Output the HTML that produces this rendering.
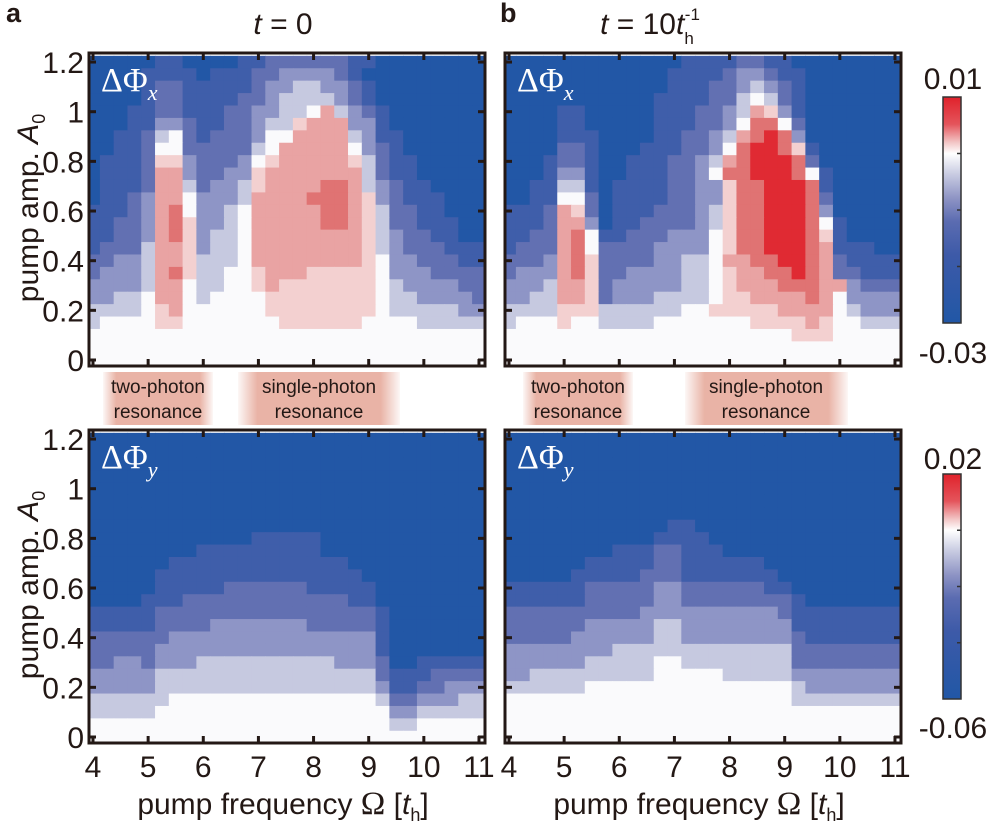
<!DOCTYPE html>
<html><head><meta charset="utf-8">
<style>
body{margin:0;background:#fff;}
svg{display:block;font-family:"Liberation Sans",sans-serif;}
.tk{font-size:30px;fill:#231815;}
</style></head>
<body>
<svg id="fig" width="990" height="831" viewBox="0 0 990 831" xmlns="http://www.w3.org/2000/svg">
<defs>
<linearGradient id="cbar" x1="0" y1="1" x2="0" y2="0">
<stop offset="0" stop-color="#2157a6"/><stop offset="0.3" stop-color="#3d5aa8"/>
<stop offset="0.45" stop-color="#5b6cb1"/><stop offset="0.55" stop-color="#8d93c4"/>
<stop offset="0.66" stop-color="#c9cce2"/><stop offset="0.75" stop-color="#ffffff"/>
<stop offset="0.8" stop-color="#f2c4c4"/><stop offset="0.88" stop-color="#e4545b"/>
<stop offset="1" stop-color="#e0222b"/></linearGradient>
<linearGradient id="res" x1="0" y1="0" x2="1" y2="0">
<stop offset="0" stop-color="#e9b3a6" stop-opacity="0.1"/><stop offset="0.12" stop-color="#e9b3a6"/>
<stop offset="0.88" stop-color="#e9b3a6"/><stop offset="1" stop-color="#e9b3a6" stop-opacity="0.1"/></linearGradient>
</defs>
</svg>
<script>
// ---- data (rows top = A 1.2 down to A 0; columns Ω = 4..11 step 0.25) ----
const freqs = []; for (let j = 0; j < 29; j++) freqs.push(4 + 0.25 * j);
const amps = []; for (let i = 0; i < 25; i++) amps.push(1.2 - 0.05 * i);
const xTicks = [4,5,6,7,8,9,10,11];
const yTicks = [0,0.2,0.4,0.6,0.8,1,1.2];
const yTickLabels = ["0","0.2","0.4","0.6","0.8","1","1.2"];
const mapPhiX0 = [
"00000110000112222221100000000","00001111011122333321000000000","00001221111123344332100000000",
"00001221111223444432100000000","00011221112233445743210000000","00011332112234467773310000000",
"00112452122235577774311000000","00112552222245777775321000000","01112663222356777776421100000",
"01112773223367777777421100000","01112774233467777887432110000","01123775333477778887632111000",
"11123785334577777887642211000","11223786334577777887642211100","11223786344577777777643221100",
"12224776344577777777643222111","22334776444577777777653322211","23334786445567776666653332222",
"33334775445567666666654333322","33445775455556666666654433332","44445675555556666666654444433",
"45555665555555666666555544444","55555555555555555555555555555","55555555555555555555555555555",
"55555555555555555555555555555"];
const mapPhiX10 = [
"00000000000001111221100000000","00000000000011112332110000000","00000000000011122343210000000",
"00000000000111122454210000000","00001100000111223476310000000","00001100000111223588520000000",
"00001110000112234789830000000","00002210001112235899861000000","00012210011122347899982000000",
"00013310011122358899985100000","00114410111122336889998100000","00115520111122336889998200000",
"11127620111222346889998300000","11127730112222346889998510000","11227851122233356889998610000",
"12227852222333356889998711100","22237862222334457788998721111","23337862233334456778898722111",
"33347762333334456777888773222","33447762333444456677778753333","44446664444445566666777754333",
"45556554444555555566667655444","55555555555555555555566655555","55555555555555555555555555555",
"55555555555555555555555555555"];
const mapPhiY0 = [
"00000000000000000000000000000","00000000000000000000000000000","00000000000000000000000000000",
"00000000000000000000000000000","00000000000000000000000000000","00000000000000000000000000000",
"00000000000000000000000000000","00000000000000000000000000000","00000000000011111000000000000",
"00000000111111111000000000000","00000011111111111110000000000","00000111111111111111000000000",
"00000111112222221111100000000","00001112222222222221100000000","11111222222222222222210000000",
"11111222233333332222210000000","22222233333333333333310000000","22222333333333333333310000000",
"22332333444444444433320011111","33333444444444444444421112222","33333444444444444444431122333",
"44444455555555555555542233344","44444555555555555555553344444","55555555555555555555554455555",
"55555555555555555555555555555"];
const mapPhiY10 = [
"00000000000000000000000000000","00000000000000000000000000000","00000000000000000000000000000",
"00000000000000000000000000000","00000000000000000000000000000","00000000000000000000000000000",
"00000000000000000000000000000","00000000000011000000000000000","00000000000111100000000000000",
"00000000111221110000000000000","00000011111221111110000000000","00000111112221111111000000000",
"11111122222332222221100000000","11111122222332222222210000000","22222222223333333333211111111",
"22222233333443333333311111111","22222333333443333333321111111","33333333444444444444422222222",
"33333344444554444444422222222","33444444444555554444433333333","44444455555555555555543333333",
"55555555555555555555544444444","55555555555555555555555555555","55555555555555555555555555555",
"55555555555555555555555555555"];
const cmap = ["#2257a6","#3f5eaa","#6270b2","#8e95c6","#c6c9e0","#fafafc","#f3d0d0","#e9a3a3","#e07373","#e02a33"];

const NS = "http://www.w3.org/2000/svg";
const svg = document.getElementById("fig");
function el(tag, attrs, parent) {
  const e = document.createElementNS(NS, tag);
  for (const k in attrs) e.setAttribute(k, attrs[k]);
  (parent || svg).appendChild(e); return e;
}
const ink = "#231815";
const panels = [
  {map: mapPhiX0, ox: 0, oy: 0, name: "phi-x-t0", sub: "x", left: true, bottom: false},
  {map: mapPhiX10, ox: 416, oy: 0, name: "phi-x-t10", sub: "x", left: false, bottom: false},
  {map: mapPhiY0, ox: 0, oy: 377, name: "phi-y-t0", sub: "y", left: true, bottom: true},
  {map: mapPhiY10, ox: 416, oy: 377, name: "phi-y-t10", sub: "y", left: false, bottom: true}
];
panels.forEach((p, pi) => {
  const X = v => p.ox + 93 + (v - 4) * 55.14;
  const Y = v => p.oy + 360 - v * 248.3;
  const fx0 = p.ox + 89, fx1 = p.ox + 485, fy0 = p.oy + 53, fy1 = p.oy + 366;
  const g = el("g", {});
  
  
  el("clipPath", {id: "clip" + pi}, g);
  el("rect", {x: fx0, y: fy0, width: fx1 - fx0, height: fy1 - fy0}, g.lastChild);
  const cells = el("g", {"clip-path": "url(#clip" + pi + ")"}, g);
  amps.forEach((a, i) => {
    freqs.forEach((f, j) => {
      const v = +p.map[i][j];
      const r = el("rect", {x: X(f - 0.125), y: Y(a + 0.025), width: X(f + 0.125) - X(f - 0.125) + 0.6,
        height: Y(a - 0.025) - Y(a + 0.025) + 0.6, fill: cmap[v]}, cells);
      
      
    });
  });
  const fr = el("rect", {x: fx0, y: fy0, width: fx1 - fx0, height: fy1 - fy0, fill: "none", stroke: ink, "stroke-width": 3}, g);
  
  
  xTicks.forEach(t => {
    el("line", {x1: X(t), x2: X(t), y1: fy1, y2: fy1 - 7, stroke: ink, "stroke-width": 3}, g);
    el("line", {x1: X(t), x2: X(t), y1: fy0, y2: fy0 + 7, stroke: ink, "stroke-width": 3}, g);
  });
  yTicks.forEach((t, k) => {
    el("line", {x1: fx0, x2: fx0 + 7, y1: Y(t), y2: Y(t), stroke: ink, "stroke-width": 3}, g);
    el("line", {x1: fx1, x2: fx1 - 7, y1: Y(t), y2: Y(t), stroke: ink, "stroke-width": 3}, g);
    if (p.left) {
      const tl = el("text", {x: fx0 - 5, y: Y(t) + 11, "text-anchor": "end", class: "tk"}, svg);
      tl.textContent = yTickLabels[k];
      
      
    }
  });
  if (p.bottom) {
    xTicks.forEach(t => {
      const tl = el("text", {x: X(t), y: 777, "text-anchor": "middle", class: "tk"}, svg);
      tl.textContent = String(t);
      
      
    });
    const xt = el("text", {x: p.ox + 283, y: 814, "text-anchor": "middle", class: "tk"}, svg);
    xt.innerHTML = 'pump frequency <tspan font-family="Liberation Serif" font-size="33">Ω</tspan> [<tspan font-style="italic">t</tspan><tspan font-size="18" dy="7">h</tspan><tspan dy="-7">]</tspan>';
    
    
  }
  if (p.left) {
    const cy = p.oy + 208;
    const yt = el("text", {x: 0, y: 0, transform: "translate(38," + cy + ") rotate(-90)", "text-anchor": "middle", class: "tk"}, svg);
    yt.innerHTML = 'pump amp. <tspan font-style="italic">A</tspan><tspan font-size="18" dy="7">0</tspan>';
    
    
  }
  const lab = el("text", {x: fx0 + 12, y: fy0 + 38, fill: "#fff", "font-family": "Liberation Serif", "font-size": "34"}, svg);
  lab.innerHTML = 'ΔΦ<tspan font-size="22" font-style="italic" dy="9">' + p.sub + '</tspan>';
  
  
});
[[103,213,158,"two-photon"],[238,400,319,"single-photon"],[523,633,578,"two-photon"],[685,848,766,"single-photon"]].forEach(r => {
  const b = el("rect", {x: r[0], y: 372, width: r[1] - r[0], height: 53, fill: "url(#res)"});
  
  
  const t = el("text", {x: r[2], y: 393, "text-anchor": "middle", "font-size": "19", fill: ink});
  t.textContent = r[3];
  
  
  const t2 = el("text", {x: r[2], y: 418, "text-anchor": "middle", "font-size": "19", fill: ink});
  t2.textContent = "resonance";
  
  
});
[[97,323,"0.01","-0.03",78,352],[474,699,"0.02","-0.06",458,727]].forEach(c => {
  const r = el("rect", {x: 943, y: c[0], width: 18, height: c[1] - c[0], fill: "url(#cbar)", stroke: "#333", "stroke-width": 1.5});
  
  
  [0.25,0.5,0.75].forEach(f => el("line", {x1: 961, x2: 957, y1: c[0] + f * (c[1] - c[0]), y2: c[0] + f * (c[1] - c[0]), stroke: "#333", "stroke-width": 1.5}));
  const a = el("text", {x: 953, y: c[4] + 11, "text-anchor": "middle", class: "tk"});
  a.textContent = c[2];
  
  
  const b = el("text", {x: 953, y: c[5] + 11, "text-anchor": "middle", class: "tk"});
  b.textContent = c[3];
  
  
});
const pa = el("text", {x: 6, y: 22, "font-size": "27", "font-weight": "bold", fill: ink}); pa.textContent = "a";


const pb = el("text", {x: 500, y: 22, "font-size": "27", "font-weight": "bold", fill: ink}); pb.textContent = "b";


const t1 = el("text", {x: 283, y: 34, "text-anchor": "middle", class: "tk"});
t1.innerHTML = '<tspan font-style="italic">t</tspan> = 0';


const t2 = el("text", {x: 650, y: 34, "text-anchor": "middle", class: "tk"});
t2.innerHTML = '<tspan font-style="italic">t</tspan> = 10<tspan font-style="italic">t</tspan><tspan font-size="17" dy="10">h</tspan><tspan font-size="17" dx="-9" dy="-24">-1</tspan>';


</script>
</body></html>
